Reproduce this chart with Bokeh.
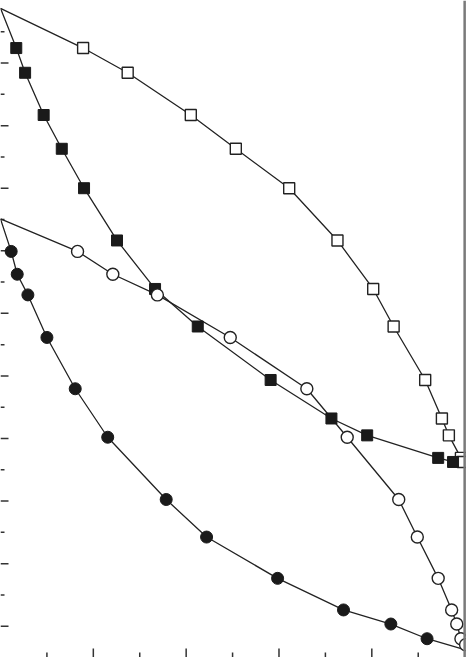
from bokeh.plotting import figure
from bokeh.models import Range1d, Span
from bokeh.embed import file_html
from bokeh.resources import INLINE

# ---- data ----
x_major = [2, 4, 6, 8]
x_minor = [1, 3, 5, 7, 9]
y_major = [1, 3, 5, 7, 9, 11, 13, 15, 17, 19]
y_minor = [2, 4, 6, 8, 10, 12, 14, 16, 18, 20]
x_border = 10.0

sq_start = (0.0, 20.75)
sq_end = (10.0, 6.15)
open_sq_x = [1.78, 2.74, 4.10, 5.07, 6.22, 7.26, 8.03, 8.47, 9.15, 9.51, 9.66, 9.92, 9.96]
open_sq_y = [19.48, 18.69, 17.34, 16.26, 15.00, 13.33, 11.78, 10.58, 8.87, 7.64, 7.10, 6.38, 6.25]
filled_sq_x = [0.34, 0.53, 0.93, 1.32, 1.80, 2.51, 3.33, 4.25, 5.82, 7.13, 7.90, 9.43, 9.75]
filled_sq_y = [19.48, 18.69, 17.34, 16.26, 15.00, 13.33, 11.78, 10.58, 8.87, 7.64, 7.10, 6.38, 6.25]

circ_start = (0.0, 14.02)
circ_end = (10.0, 0.25)
open_circ_x = [1.66, 2.42, 3.38, 4.95, 6.60, 7.47, 8.58, 8.98, 9.43, 9.72, 9.83, 9.92, 10.02]
open_circ_y = [12.98, 12.25, 11.59, 10.23, 8.59, 7.04, 5.05, 3.85, 2.53, 1.52, 1.07, 0.60, 0.41]
filled_circ_x = [0.23, 0.36, 0.59, 1.00, 1.61, 2.31, 3.57, 4.44, 5.97, 7.39, 8.41, 9.19]
filled_circ_y = [12.98, 12.25, 11.59, 10.23, 8.59, 7.04, 5.05, 3.85, 2.53, 1.52, 1.07, 0.60]

# ---- figure ----
p = figure(width=466, height=657, output_backend="svg", toolbar_location=None,
           x_range=Range1d(0, 10.04), y_range=Range1d(0, 21),
           x_axis_location=None, y_axis_location=None,
           min_border=0)
p.grid.visible = False
p.outline_line_color = None
p.background_fill_color = "white"
p.border_fill_color = "white"

tick_kw = dict(line_color="#333333", line_width=1.5, length_units="screen")
# bottom ticks (pointing up into the plot)
p.ray(x=x_major, y=[0] * len(x_major), length=9, angle=90, angle_units="deg", **tick_kw)
p.ray(x=x_minor, y=[0] * len(x_minor), length=5, angle=90, angle_units="deg", **tick_kw)
# left ticks (pointing right into the plot)
p.ray(x=[0] * len(y_major), y=y_major, length=8, angle=0, angle_units="deg", **tick_kw)
p.ray(x=[0] * len(y_minor), y=y_minor, length=4, angle=0, angle_units="deg", **tick_kw)

# right frame border
p.add_layout(Span(location=x_border, dimension="height", line_color="#7a7a7a", line_width=2.5))

line_kw = dict(line_color="#222222", line_width=1.3)

def curve(xs, ys, start, end):
    return [start[0]] + list(xs) + [end[0]], [start[1]] + list(ys) + [end[1]]

cx, cy = curve(open_sq_x, open_sq_y, sq_start, sq_end)
p.line(cx, cy, **line_kw)
cx, cy = curve(filled_sq_x, filled_sq_y, sq_start, sq_end)
p.line(cx, cy, **line_kw)
cx, cy = curve(open_circ_x[:-1], open_circ_y[:-1], circ_start, circ_end)
p.line(cx, cy, **line_kw)
cx, cy = curve(filled_circ_x, filled_circ_y, circ_start, circ_end)
p.line(cx, cy, **line_kw)

p.scatter(open_sq_x, open_sq_y, marker="square", size=11, fill_color="white",
          line_color="#222222", line_width=1.4)
p.scatter(filled_sq_x, filled_sq_y, marker="square", size=11, fill_color="#1a1a1a",
          line_color="#1a1a1a", line_width=1)
p.scatter(open_circ_x, open_circ_y, marker="circle", size=12, fill_color="white",
          line_color="#222222", line_width=1.4)
p.scatter(filled_circ_x, filled_circ_y, marker="circle", size=12, fill_color="#1a1a1a",
          line_color="#1a1a1a", line_width=1)

open("out.html", "w").write(file_html(p, INLINE))
